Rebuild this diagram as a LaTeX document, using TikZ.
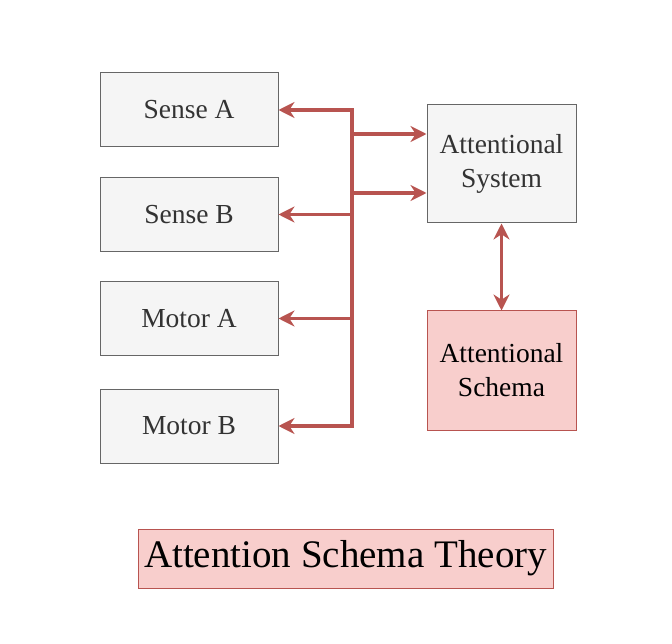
\documentclass[tikz,border=0pt]{standalone}
\usepackage{fontspec}
\setmainfont{Liberation Serif}
\usetikzlibrary{arrows.meta}
\definecolor{redline}{HTML}{B85450}
\definecolor{redfill}{HTML}{F8CECC}
\definecolor{greyfill}{HTML}{F5F5F5}
\definecolor{greyline}{HTML}{666666}
\definecolor{txt}{HTML}{333333}
\begin{document}
\begin{tikzpicture}[x=1pt,y=-1pt,
  gbox/.style={draw=greyline,fill=greyfill,line width=1pt,text=txt,font=\fontsize{27.5}{34}\selectfont,align=center},
  rbox/.style={draw=redline,fill=redfill,line width=1pt,text=black,font=\fontsize{27.5}{34}\selectfont,align=center},
  conn/.style={draw=redline,line width=3.5pt,-{Stealth[length=16pt,width=16pt]}},
  conn2/.style={draw=redline,line width=3.5pt,{Stealth[length=16pt,width=16pt]}-{Stealth[length=16pt,width=16pt]}}]
\useasboundingbox (0,0) rectangle (672,644);
\node[gbox,minimum width=178,minimum height=74] (sa) at (189,110) {Sense A};
\node[gbox,minimum width=178,minimum height=74] (sb) at (189,214.5) {Sense B};
\node[gbox,minimum width=178,minimum height=74] (ma) at (189,318.5) {Motor A};
\node[gbox,minimum width=178,minimum height=74] (mb) at (189,426) {Motor B};
\node[gbox,minimum width=149,minimum height=118] (as) at (501.5,164) {Attentional\\System};
\node[rbox,minimum width=149,minimum height=119] (sc) at (501.5,370.5) {Attentional\\Schema};
\node[rbox,text=black,minimum width=415,minimum height=59,font=\fontsize{39}{46}\selectfont] (t) at (345.5,558.5) {Attention Schema Theory};
\coordinate (j1) at (352,110);
\coordinate (j4) at (352,426);
\draw[draw=redline,line width=3.5pt,line cap=rect] (j1) -- (j4);
\draw[conn] (j1) -- (sa.east);
\draw[conn] (352,214.5) -- (sb.east);
\draw[conn] (352,318.5) -- (ma.east);
\draw[conn] (j4) -- (mb.east);
\draw[conn] (352,134) -- (as.west |- 0,134);
\draw[conn] (352,193) -- (as.west |- 0,193);
\draw[conn2] (as.south) -- (sc.north);
\end{tikzpicture}
\end{document}
